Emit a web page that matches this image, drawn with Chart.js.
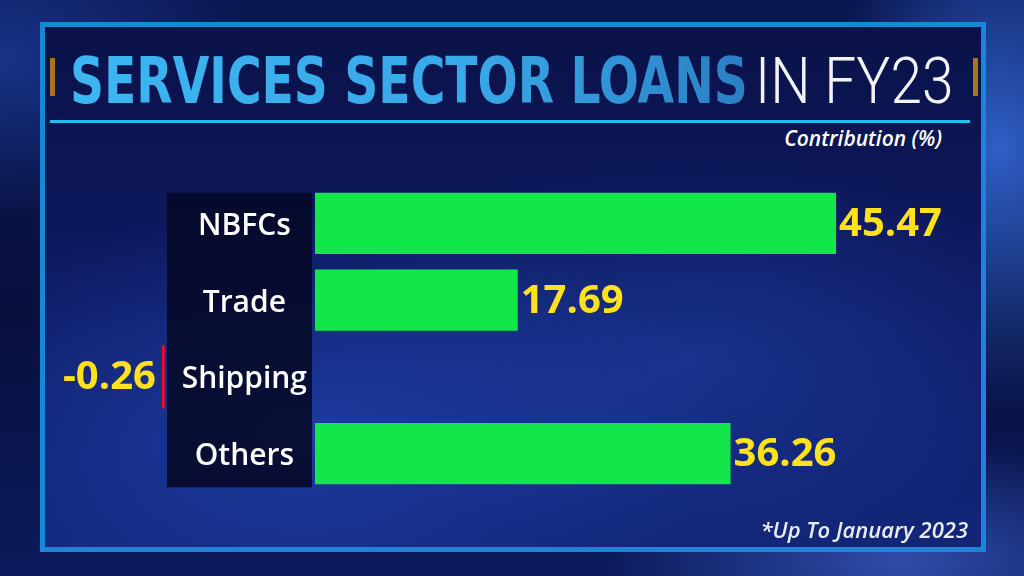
<!DOCTYPE html>
<html>
<head>
<meta charset="utf-8">
<script src="https://cdn.jsdelivr.net/npm/chart.js@4"></script>
<style>
  html, body { margin: 0; padding: 0; }
  body { width: 1024px; height: 576px; overflow: hidden; position: relative; font-family: "Open Sans", sans-serif; }
  #bg {
    position: absolute; left: 0; top: 0; width: 1024px; height: 576px;
    background:
      radial-gradient(ellipse 180px 260px at 1000px 150px, rgba(60,120,240,0.75), rgba(60,120,240,0) 100%),
      radial-gradient(ellipse 300px 120px at 900px 560px, rgba(70,110,220,0.6), rgba(70,110,220,0) 100%),
      radial-gradient(ellipse 260px 160px at 0px 60px, rgba(40,80,190,0.5), rgba(40,80,190,0) 100%),
      linear-gradient(180deg, #0a1650 0%, #08103e 55%, #0c1a5c 100%);
  }
  #frame {
    position: absolute; left: 40px; top: 22px; width: 946px; height: 530px;
    box-sizing: border-box; border: 5px solid #1a86d8;
    background:
      radial-gradient(ellipse 420px 220px at 260px 400px, rgba(40,80,200,0.55), rgba(40,80,200,0) 100%),
      radial-gradient(ellipse 380px 200px at 650px 330px, rgba(40,80,190,0.4), rgba(40,80,190,0) 100%),
      linear-gradient(180deg, #0a1248 0%, #0e1a62 50%, #122678 100%);
  }
  canvas#chart { position: absolute; left: 0; top: 0; }
  .mark { position: absolute; width: 5px; height: 38px; top: 58px; background: #a8751c; }
  #rule { position: absolute; left: 50px; top: 120px; width: 920px; height: 3px; background: #1fc0f2; }
  #title { position: absolute; left: 70px; top: 49px; white-space: nowrap; line-height: 1; }
  #title span { display: inline-block; transform-origin: 0 0; }
  #t1 {
    font-family: "Liberation Sans Narrow", "DejaVu Sans Condensed", sans-serif; font-weight: 700; font-size: 64px;
    background: linear-gradient(90deg, #3cb6f2 0%, #38a8e8 60%, #2b7fc4 100%);
    -webkit-background-clip: text; background-clip: text; color: transparent;
  }
  #t2 { font-family: "Roboto", "Lato", sans-serif; font-weight: 300; font-size: 64px; color: #f2f4f8; }
  #contrib { position: absolute; right: 82px; top: 124px; font-size: 21px; font-style: italic; font-weight: 600; color: #ffffff; }
  #note { position: absolute; right: 56px; top: 514px; font-size: 22px; font-style: italic; font-weight: 600; color: #e8ecf4; }
</style>
</head>
<body>
<div id="bg"></div>
<div id="frame"></div>
<div class="mark" style="left:50px"></div>
<div class="mark" style="left:973px"></div>
<div id="title"><span id="t1">SERVICES SECTOR LOANS</span><span id="t2">IN FY23</span></div>
<div id="rule"></div>
<div id="contrib">Contribution (%)</div>
<canvas id="chart" width="1024" height="576"></canvas>
<div id="note">*Up To January 2023</div>
<script>
// данные графика
const categories = ['NBFCs', 'Trade', 'Shipping', 'Others'];
const growthValues = [45.47, 17.69, null, 36.26];
const declineValues = [null, null, -0.26, null];

// подгоняем ширину заголовка
const t1 = document.querySelector('#t1');
const t2 = document.querySelector('#t2');
const w1 = t1.offsetWidth;
t1.style.transform = 'scaleX(' + (678 / w1) + ')';
t1.style.marginRight = (678 - w1) + 'px';
const w2 = t2.offsetWidth;
t2.style.transform = 'scaleX(' + (198 / w2) + ')';
t2.style.marginLeft = '7px';

const panelPlugin = {
    id: 'panel',
    beforeDraw(chart) {
        const ctx = chart.ctx;
        const y = chart.scales.y;
        const area = chart.chartArea;
        const band = (area.bottom - area.top) / categories.length;
        const gap = band * 0.1;
        ctx.save();
        ctx.fillStyle = 'rgba(6, 8, 38, 0.88)';
        ctx.fillRect(y.left, area.top + gap, y.right - y.left - 3, area.bottom - area.top - 2 * gap + 3);
        ctx.restore();
    }
};

const valueLabels = {
    id: 'valueLabels',
    afterDatasetsDraw(chart) {
        const ctx = chart.ctx;
        ctx.save();
        ctx.font = '700 40px "Open Sans", sans-serif';
        ctx.fillStyle = '#ffe11c';
        ctx.textBaseline = 'middle';
        chart.data.datasets.forEach((ds, di) => {
            const meta = chart.getDatasetMeta(di);
            meta.data.forEach((bar, i) => {
                const v = ds.data[i];
                if (v === null) return;
                if (v >= 0) {
                    ctx.textAlign = 'left';
                    ctx.fillText(v.toFixed(2), bar.x + 3, bar.y + 1);
                } else {
                    ctx.textAlign = 'right';
                    ctx.fillText(v.toFixed(2), bar.x - 6, bar.y + 1);
                }
            });
        });
        ctx.restore();
    }
};

new Chart(document.querySelector('#chart'), {
    type: 'bar',
    data: {
        labels: categories,
        datasets: [{
            data: growthValues,
            xAxisID: 'x',
            backgroundColor: '#13e64b',
            grouped: false,
            categoryPercentage: 0.8,
            barPercentage: 1
        }, {
            data: declineValues,
            xAxisID: 'xn',
            backgroundColor: '#e3102a',
            grouped: false,
            clip: false,
            categoryPercentage: 0.82,
            barPercentage: 1
        }]
    },
    options: {
        indexAxis: 'y',
        responsive: false,
        animation: false,
        devicePixelRatio: 1,
        layout: { padding: { left: 167, top: 185, bottom: 84, right: 136 } },
        plugins: { legend: { display: false }, tooltip: { enabled: false } },
        scales: {
            x: { min: 0, max: 50, display: false },
            // ось для отрицательных значений, ноль левее панели подписей
            xn: { min: 13.1, max: 63.1, display: false },
            y: {
                grid: { display: false, drawTicks: false },
                border: { display: false },
                afterFit(scale) { scale.width = 148; },
                ticks: {
                    crossAlign: 'center',
                    padding: 8,
                    labelOffset: 3,
                    color: '#ffffff',
                    font: { family: '"Open Sans", sans-serif', size: 30, weight: '600' }
                }
            }
        }
    },
    plugins: [panelPlugin, valueLabels]
});
</script>
</body>
</html>
